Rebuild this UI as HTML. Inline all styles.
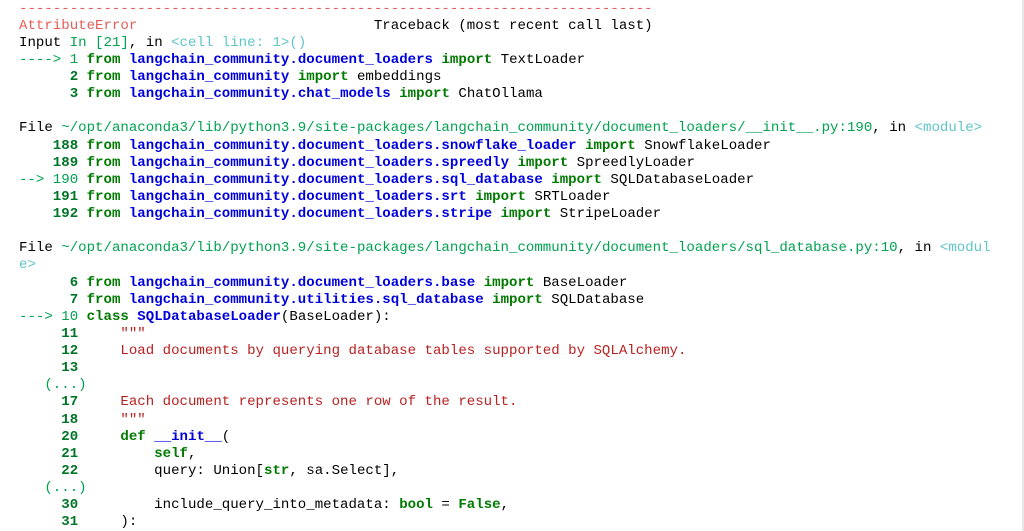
<!DOCTYPE html>
<html><head><meta charset="utf-8"><style>
html,body{margin:0;padding:0;background:#fff;width:1024px;height:531px;overflow:hidden}
pre{margin:0;position:absolute;left:19px;top:0.5px;font-family:"Liberation Mono",monospace;font-size:14.08px;line-height:17.12px;color:#000;white-space:pre}
.r{color:#e75c58}.g{color:#00a250}.c{color:#60c6c8}
.k{color:#007a00;font-weight:bold}.n{color:#0000dd;font-weight:bold}
.ln{color:#007427;font-weight:bold}.s{color:#ba2121}
.edge{position:absolute;right:0;top:0;width:2px;height:531px;background:#e8e8e8}
</style></head><body>
<div class="edge"></div>
<pre><span class="r">---------------------------------------------------------------------------</span>
<span class="r">AttributeError</span>                            Traceback (most recent call last)
Input <span class="g">In [21]</span>, in <span class="c">&lt;cell line: 1&gt;</span><span class="c">()</span>
<span class="g">----&gt; 1</span> <span class="k">from</span> <span class="n">langchain_community</span><span class="n">.</span><span class="n">document_loaders</span> <span class="k">import</span> TextLoader
<span class="ln">      2</span> <span class="k">from</span> <span class="n">langchain_community</span> <span class="k">import</span> embeddings
<span class="ln">      3</span> <span class="k">from</span> <span class="n">langchain_community</span><span class="n">.</span><span class="n">chat_models</span> <span class="k">import</span> ChatOllama

File <span class="g">~/opt/anaconda3/lib/python3.9/site-packages/langchain_community/document_loaders/__init__.py:190</span>, in <span class="c">&lt;module&gt;</span>
<span class="ln">    188</span> <span class="k">from</span> <span class="n">langchain_community.document_loaders.snowflake_loader</span> <span class="k">import</span> SnowflakeLoader
<span class="ln">    189</span> <span class="k">from</span> <span class="n">langchain_community.document_loaders.spreedly</span> <span class="k">import</span> SpreedlyLoader
<span class="g">--&gt; 190</span> <span class="k">from</span> <span class="n">langchain_community.document_loaders.sql_database</span> <span class="k">import</span> SQLDatabaseLoader
<span class="ln">    191</span> <span class="k">from</span> <span class="n">langchain_community.document_loaders.srt</span> <span class="k">import</span> SRTLoader
<span class="ln">    192</span> <span class="k">from</span> <span class="n">langchain_community.document_loaders.stripe</span> <span class="k">import</span> StripeLoader

File <span class="g">~/opt/anaconda3/lib/python3.9/site-packages/langchain_community/document_loaders/sql_database.py:10</span>, in <span class="c">&lt;modul</span>
<span class="c">e&gt;</span>
<span class="ln">      6</span> <span class="k">from</span> <span class="n">langchain_community.document_loaders.base</span> <span class="k">import</span> BaseLoader
<span class="ln">      7</span> <span class="k">from</span> <span class="n">langchain_community.utilities.sql_database</span> <span class="k">import</span> SQLDatabase
<span class="g">---&gt; 10</span> <span class="k">class</span> <span class="n">SQLDatabaseLoader</span>(BaseLoader):
<span class="ln">     11</span> <span class="s">    """</span>
<span class="ln">     12</span> <span class="s">    Load documents by querying database tables supported by SQLAlchemy.</span>
<span class="ln">     13</span>
<span class="g">   (...)</span>
<span class="ln">     17</span> <span class="s">    Each document represents one row of the result.</span>
<span class="ln">     18</span> <span class="s">    """</span>
<span class="ln">     20</span>     <span class="k">def</span> <span class="n">__init__</span>(
<span class="ln">     21</span>         <span class="k">self</span>,
<span class="ln">     22</span>         query: Union[<span class="k">str</span>, sa.Select],
<span class="g">   (...)</span>
<span class="ln">     30</span>         include_query_into_metadata: <span class="k">bool</span> = <span class="k">False</span>,
<span class="ln">     31</span>     ):
</pre>
</body></html>
